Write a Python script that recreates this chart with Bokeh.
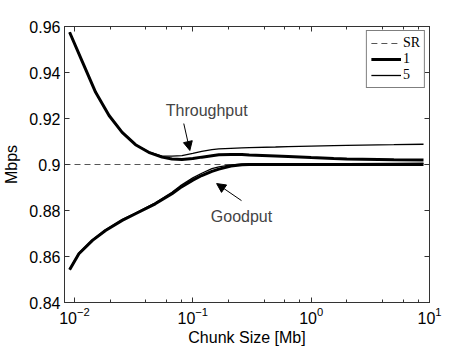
from bokeh.plotting import figure
from bokeh.models import (Legend, LegendItem, LinearAxis, LogAxis, Arrow, NormalHead,
                          Label, FixedTicker, CustomJSTickFormatter, LogTicker)
from bokeh.embed import file_html
from bokeh.resources import INLINE

# ---- data ----
thr_x = [0.0091, 0.0117, 0.0151, 0.0196, 0.0253, 0.0328, 0.0424, 0.055, 0.0667, 0.081,
         0.1, 0.119, 0.145, 0.166, 0.21, 0.26, 0.3, 0.5, 0.64, 1.0, 1.55, 2.0, 5.0, 8.9]
thr_1 = [0.9575, 0.9445, 0.9314, 0.9213, 0.914, 0.9086, 0.9053, 0.9032, 0.9024, 0.9022,
         0.9026, 0.9032, 0.9038, 0.9042, 0.9044, 0.9043, 0.9041, 0.9037, 0.9035, 0.9030,
         0.9026, 0.9024, 0.9021, 0.9020]
thr_5 = [0.9575, 0.9445, 0.9314, 0.9213, 0.914, 0.9087, 0.9055, 0.9036, 0.9036, 0.9039,
         0.9048, 0.9057, 0.9065, 0.9068, 0.907, 0.9072, 0.9073, 0.9076, 0.9078, 0.908,
         0.9082, 0.9083, 0.9086, 0.9088]
good_x = [0.0091, 0.0109, 0.0142, 0.0183, 0.0253, 0.0328, 0.0482, 0.0667, 0.0782, 0.1,
          0.119, 0.145, 0.166, 0.21, 0.26, 0.3, 0.5, 1.0, 2.0, 5.0, 8.9]
good_1 = [0.8542, 0.8612, 0.867, 0.8713, 0.8757, 0.8786, 0.8829, 0.8873, 0.8899, 0.8932,
          0.8952, 0.897, 0.898, 0.8993, 0.8999, 0.9, 0.9, 0.9, 0.9, 0.9, 0.9]
good_5 = [0.8545, 0.8615, 0.8673, 0.8716, 0.876, 0.8789, 0.8833, 0.8879, 0.8907, 0.8942,
          0.8962, 0.8982, 0.899, 0.8998, 0.9002, 0.9003, 0.9003, 0.9003, 0.9004, 0.9005, 0.9006]
sr_x = [0.00824, 10.0]
sr_y = [0.9, 0.9]
y_ticks = [0.84, 0.86, 0.88, 0.9, 0.92, 0.94, 0.96]

FONT = "Liberation Sans"

p = figure(width=474, height=348, x_axis_type="log",
           x_range=(0.00824, 10.0), y_range=(0.84, 0.96),
           output_backend="svg", toolbar_location=None,
           min_border_left=62, min_border_right=45, min_border_top=26, min_border_bottom=46,
           x_axis_label="Chunk Size [Mb]", y_axis_label="Mbps")
p.xgrid.visible = False
p.ygrid.visible = False
p.outline_line_color = "#333333"
p.background_fill_color = "white"
p.border_fill_color = "white"

r_sr = p.line(sr_x, sr_y, line_color="#555555", line_dash="6 4", line_width=1)
r1 = p.line(thr_x, thr_1, line_color="black", line_width=3)
r5 = p.line(thr_x, thr_5, line_color="black", line_width=1.3)
p.line(good_x, good_1, line_color="black", line_width=3)
p.line(good_x, good_5, line_color="black", line_width=1.3)

ytick_fmt = CustomJSTickFormatter(code="return tick.toFixed(2).replace(/0$/, '');")
blank_fmt = CustomJSTickFormatter(code="return ' ';")

def style_axis(ax, show_labels=True):
    ax.axis_line_color = "#333333"
    ax.major_tick_line_color = "#333333"
    ax.minor_tick_line_color = "#333333"
    ax.major_tick_in = 5
    ax.major_tick_out = 0
    ax.minor_tick_in = 3
    ax.minor_tick_out = 0
    ax.major_label_text_font = FONT
    ax.major_label_text_font_size = "16px"
    ax.major_label_text_color = "black"
    ax.axis_label_text_font = FONT
    ax.axis_label_text_font_size = "16px"
    ax.axis_label_text_font_style = "normal"
    ax.axis_label_text_color = "black"
    if not show_labels:
        ax.formatter = blank_fmt
        ax.major_label_text_font_size = "2px"
        ax.major_label_standoff = 0

xa = p.xaxis[0]
style_axis(xa)
xa.ticker = LogTicker(desired_num_ticks=4)
xa.major_label_standoff = 4
xa.axis_label_standoff = 2

ya = p.yaxis[0]
style_axis(ya)
ya.ticker = FixedTicker(ticks=y_ticks)
ya.formatter = ytick_fmt
ya.minor_tick_in = 0
ya.major_label_standoff = 4
ya.axis_label_standoff = 6

ry = LinearAxis(ticker=FixedTicker(ticks=y_ticks))
style_axis(ry, show_labels=False)
ry.minor_tick_in = 0
p.add_layout(ry, "right")

tx = LogAxis(ticker=LogTicker(desired_num_ticks=4))
style_axis(tx, show_labels=False)
p.add_layout(tx, "above")

# annotations
p.add_layout(Label(x=0.131, y=0.9235, text="Throughput", text_align="center",
                   text_baseline="middle", text_font=FONT, text_font_size="16px"))
p.add_layout(Arrow(end=NormalHead(size=9, fill_color="black", line_color="black"),
                   x_start=0.0839, y_start=0.9178, x_end=0.0944, y_end=0.9061,
                   line_color="black", line_width=1))
p.add_layout(Label(x=0.258, y=0.8776, text="Goodput", text_align="center",
                   text_baseline="middle", text_font=FONT, text_font_size="16px"))
p.add_layout(Arrow(end=NormalHead(size=9, fill_color="black", line_color="black"),
                   x_start=0.258, y_start=0.8843, x_end=0.159, y_end=0.8917,
                   line_color="black", line_width=1))

legend = Legend(items=[LegendItem(label="SR", renderers=[r_sr]),
                       LegendItem(label="1", renderers=[r1]),
                       LegendItem(label="5", renderers=[r5])],
                location="top_right", margin=4, padding=4, spacing=0,
                glyph_width=30, glyph_height=10, label_height=10, label_width=14,
                label_standoff=2,
                label_text_font="Liberation Serif", label_text_font_size="14px",
                label_text_color="black",
                border_line_color="black", border_line_width=1,
                background_fill_color="white", background_fill_alpha=1)
p.add_layout(legend)

open("out.html", "w").write(file_html(p, INLINE))
